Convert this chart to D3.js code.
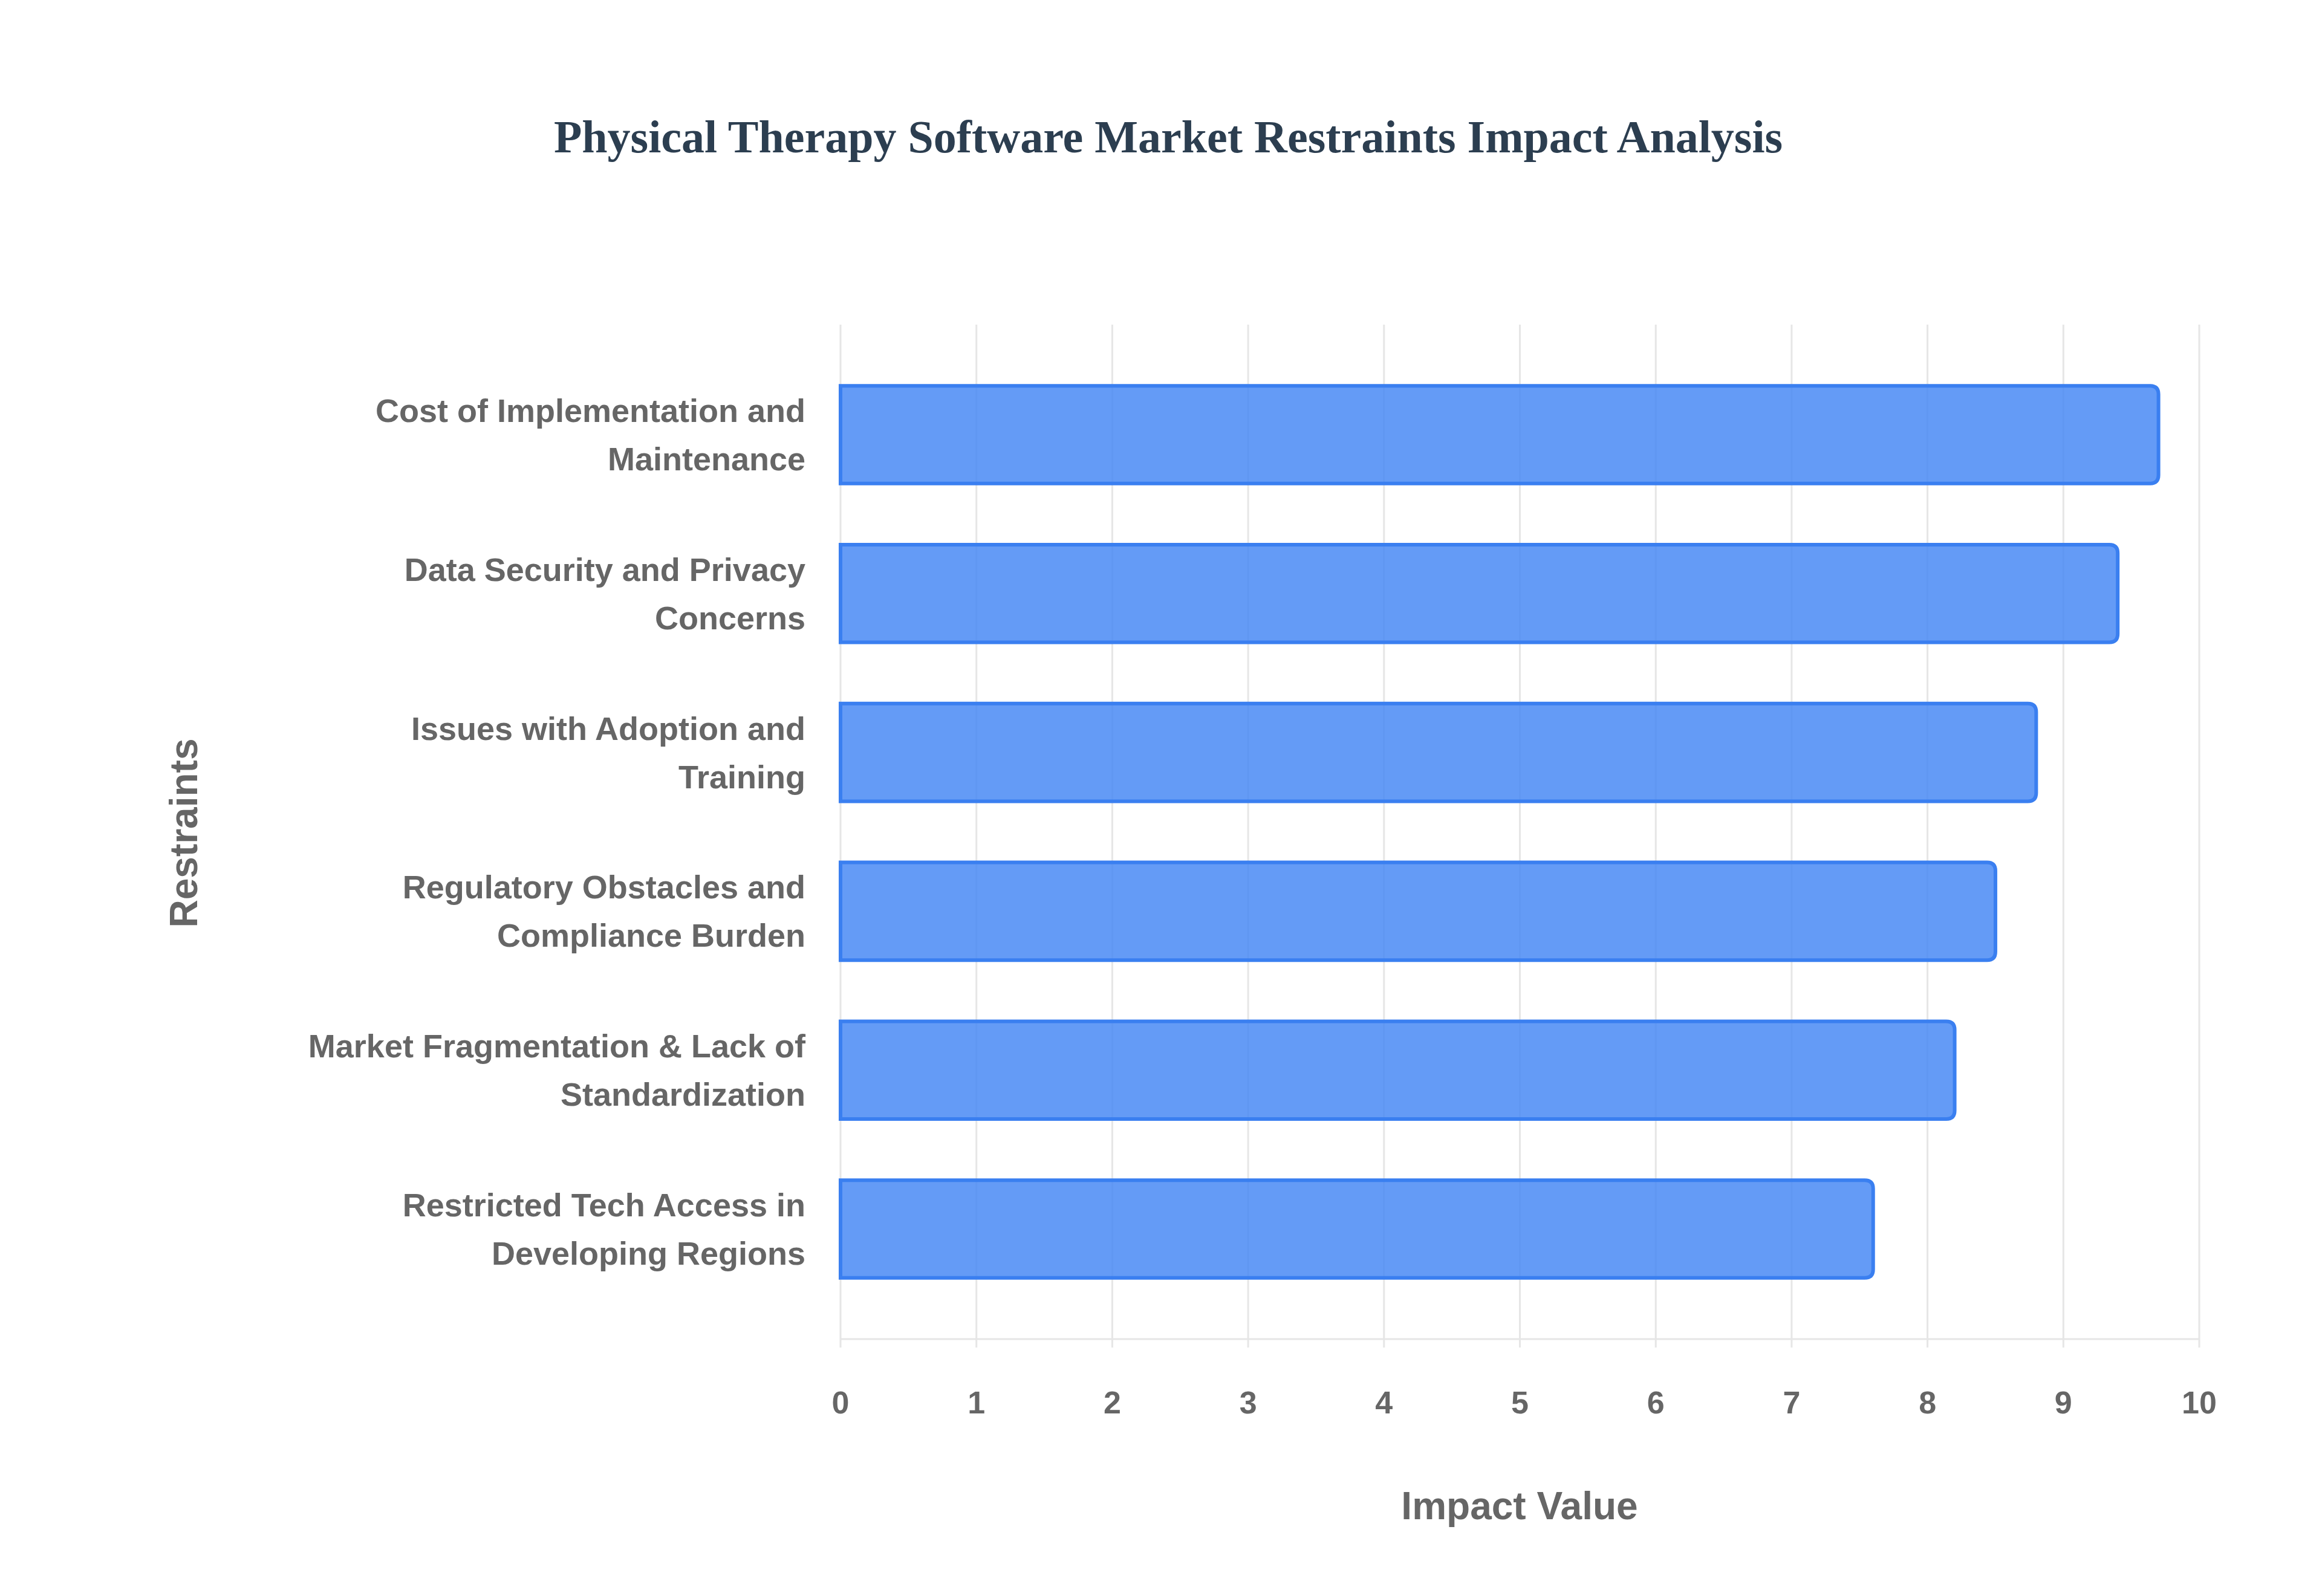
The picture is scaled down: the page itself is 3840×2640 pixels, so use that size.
<!DOCTYPE html>
<html>
<head>
<meta charset="utf-8">
<script src="https://cdn.jsdelivr.net/npm/d3@7"></script>
<style>
  body { margin: 0; background: #fff; }
  text { font-family: "Liberation Sans", Arial, sans-serif; }
</style>
</head>
<body>
<svg id="chart" width="3840" height="2640"></svg>
<script>
const restraints = [
    ['Cost of Implementation and', 'Maintenance'],
    ['Data Security and Privacy', 'Concerns'],
    ['Issues with Adoption and', 'Training'],
    ['Regulatory Obstacles and', 'Compliance Burden'],
    ['Market Fragmentation & Lack of', 'Standardization'],
    ['Restricted Tech Access in', 'Developing Regions']
]
const impactValues = [9.7, 9.4, 8.8, 8.5, 8.2, 7.6]
const xTicks = [0, 1, 2, 3, 4, 5, 6, 7, 8, 9, 10]

const svg = d3.select('#chart')
const plotLeft = 1390, plotRight = 3637, plotTop = 537, plotBottom = 2215

const x = d3.scaleLinear().domain([0, 10]).range([plotLeft, plotRight])
const y = d3.scaleBand().domain(d3.range(restraints.length)).range([plotTop, plotBottom]).padding(0.385)

// grid
svg.append('g').selectAll('line').data(xTicks).join('line')
    .attr('x1', d => x(d)).attr('x2', d => x(d))
    .attr('y1', plotTop).attr('y2', plotBottom + 14)
    .attr('stroke', '#e6e6e6').attr('stroke-width', 3)
svg.append('line').attr('x1', plotLeft).attr('x2', plotRight).attr('y1', plotBottom).attr('y2', plotBottom)
    .attr('stroke', '#e6e6e6').attr('stroke-width', 3)

// bars with right corners rounded
const r = 14
svg.append('g').selectAll('path').data(impactValues).join('path')
    .attr('d', (d, i) => {
        const x0 = x(0), x1 = x(d), y0 = y(i), y1 = y(i) + y.bandwidth()
        return `M${x0},${y0}H${x1 - r}Q${x1},${y0} ${x1},${y0 + r}V${y1 - r}Q${x1},${y1} ${x1 - r},${y1}H${x0}Z`
    })
    .attr('fill', 'rgba(66,133,244,0.82)')
    .attr('stroke', '#3a7ff0').attr('stroke-width', 6)

// y labels
const lab = svg.append('g').selectAll('text').data(restraints).join('text')
    .attr('text-anchor', 'end').attr('font-size', 54).attr('font-weight', 'bold').attr('fill', '#666')
lab.selectAll('tspan').data((d, i) => d.map((t, k) => ({t, k, i}))).join('tspan')
    .attr('x', 1332)
    .attr('y', d => y(d.i) + y.bandwidth() / 2 + (d.k === 0 ? -40 : 40) + 19)
    .text(d => d.t)

// x tick labels
svg.append('g').selectAll('text').data(xTicks).join('text')
    .attr('x', d => x(d)).attr('y', 2338)
    .attr('text-anchor', 'middle').attr('font-size', 52).attr('font-weight', 'bold').attr('fill', '#666')
    .text(d => d)

// axis titles
svg.append('text').attr('x', 2513).attr('y', 2513).attr('text-anchor', 'middle')
    .attr('font-size', 64).attr('font-weight', 'bold').attr('fill', '#666').text('Impact Value')
svg.append('text').attr('transform', 'translate(326,1378) rotate(-90)').attr('text-anchor', 'middle')
    .attr('font-size', 64).attr('font-weight', 'bold').attr('fill', '#666').text('Restraints')

// title
svg.append('text').attr('x', 1932).attr('y', 252).attr('text-anchor', 'middle')
    .style('font-family', '"Liberation Serif", "Times New Roman", serif')
    .attr('font-size', 76).attr('font-weight', 'bold').attr('fill', '#2c3e50')
    .text('Physical Therapy Software Market Restraints Impact Analysis')
</script>
</body>
</html>
